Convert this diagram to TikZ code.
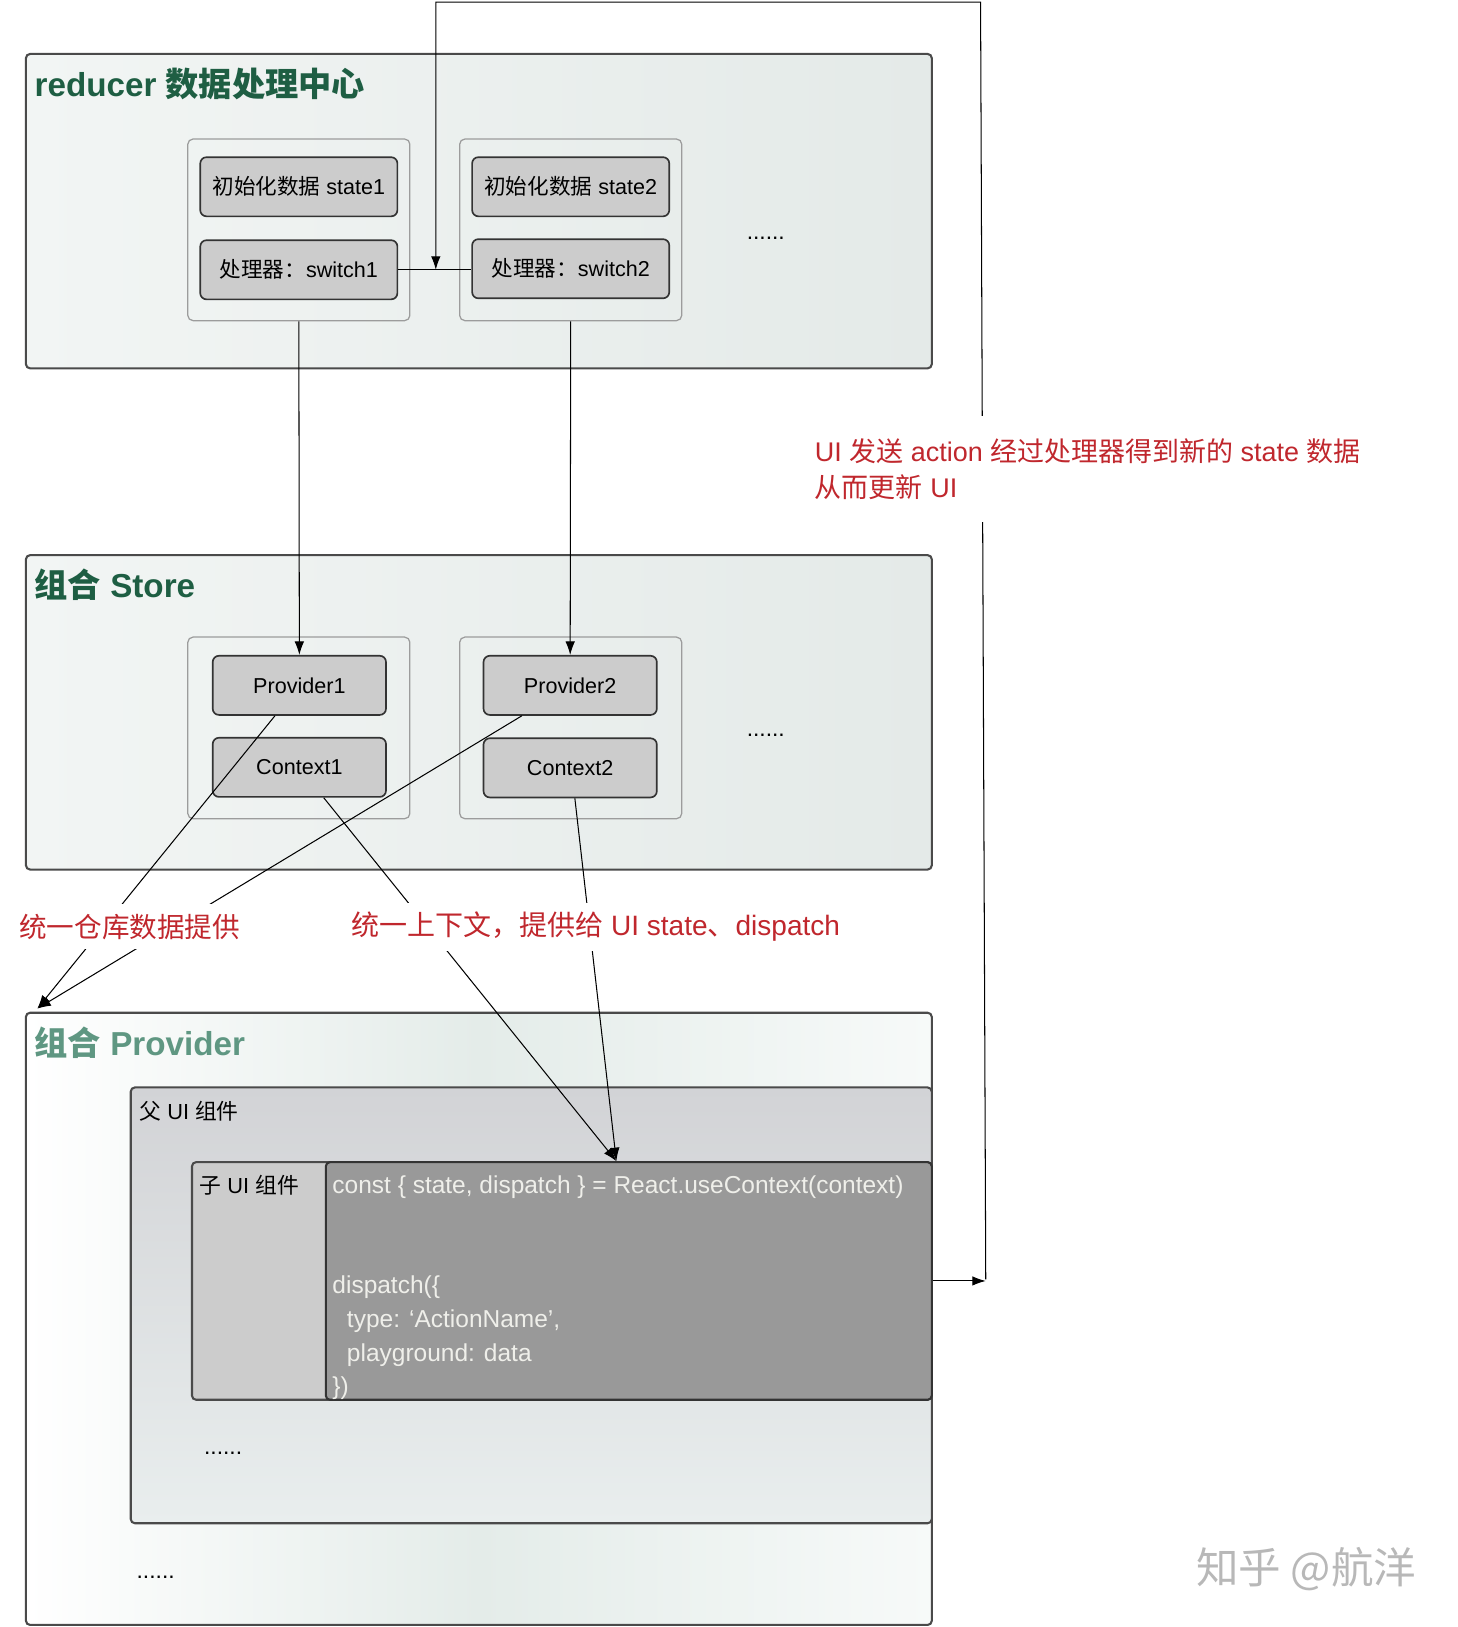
\documentclass[tikz,border=0pt]{standalone}
\usepackage{fontspec}
\setmainfont{Liberation Sans}
\newfontfamily\cjk{Noto Sans CJK SC}
\usepackage{tikz}
\usetikzlibrary{arrows.meta}

\definecolor{deepgreen}{HTML}{1E5E43}
\definecolor{palegreen}{HTML}{5F9782}
\definecolor{notered}{HTML}{C0272D}
\definecolor{boxgray}{HTML}{CCCCCC}
\definecolor{codegray}{HTML}{999999}
\definecolor{codetext}{HTML}{EFEFEA}
\definecolor{edge}{HTML}{4A4A4A}
\definecolor{grp}{HTML}{9C9C9C}
\definecolor{cellline}{HTML}{333333}
\definecolor{panelL}{HTML}{F2F5F4}
\definecolor{panelR}{HTML}{E4EAE8}
\definecolor{provmid}{HTML}{E4ECE9}
\definecolor{provR}{HTML}{F7FAF9}
\definecolor{parentT}{HTML}{D2D3D6}
\definecolor{parentB}{HTML}{E9EEEE}
\definecolor{mark}{HTML}{B8B8B8}

\newcommand{\zh}[1]{{\cjk #1}}

\begin{document}
\begin{tikzpicture}[x=0.5pt,y=-0.5pt,>={Latex[length=6.5pt,width=4.6pt]}]
  \tikzstyle{panel}=[draw=edge,line width=1pt,rounded corners=2pt,inner sep=0pt]
  \tikzstyle{group}=[draw=grp,line width=0.6pt,rounded corners=2.5pt,minimum width=107pt,minimum height=87.5pt,inner sep=0pt]
  \tikzstyle{cell}=[draw=cellline,line width=0.8pt,fill=boxgray,rounded corners=3pt,minimum width=95pt,minimum height=28.5pt,inner sep=0pt,font=\fontsize{10.4}{12}\selectfont]
  \tikzstyle{title}=[anchor=west,inner sep=0pt,font=\fontsize{16}{19}\selectfont\bfseries]
  \tikzstyle{label}=[anchor=west,inner sep=0pt,font=\fontsize{10.5}{12}\selectfont]
  \tikzstyle{note}=[text=notered,fill=white,font=\fontsize{13.5}{17.5}\selectfont]
  \tikzstyle{dots}=[font=\fontsize{11}{13}\selectfont]
  \tikzstyle{line}=[draw,line width=0.5pt]

  \useasboundingbox (0,0) rectangle (1405,1568);

  \node[panel,left color=panelL,right color=panelR,minimum width=436.5pt,minimum height=151.5pt] (reducer) at (461.5,203.5) {};
  \node[panel,left color=panelL,right color=panelR,minimum width=436.5pt,minimum height=151.5pt] (store) at (461.5,686.5) {};
  \node[panel,left color=white,right color=provR,middle color=provmid,minimum width=436.5pt,minimum height=295pt] (provider) at (461.5,1271) {};
  \node[panel,top color=parentT,bottom color=parentB,minimum width=386pt,minimum height=210pt] (parent) at (512,1258) {};
  \node[panel,fill=boxgray,minimum width=356.5pt,minimum height=114.5pt] (child) at (541.5,1234.5) {};
  \node[panel,draw=cellline,fill=codegray,minimum width=292pt,minimum height=114.5pt] (code) at (606,1234.5) {};

  \node[title,text=deepgreen] (reducertitle) at (33,81) {reducer \zh{数据处理中心}};
  \node[title,text=deepgreen] (storetitle) at (33,564) {\zh{组合} Store};
  \node[title,text=palegreen] (providertitle) at (33,1005) {\zh{组合} Provider};

  \node[group] (grp1) at (288,221.5) {};
  \node[group] (grp2) at (550,221.5) {};
  \node[cell] (state1) at (288,180) {\zh{初始化数据} state1};
  \node[cell] (switch1) at (288,260) {\zh{处理器：}switch1};
  \node[cell] (state2) at (550,180) {\zh{初始化数据} state2};
  \node[cell] (switch2) at (550,259) {\zh{处理器：}switch2};
  \node[dots] (dotsA) at (738,230) {......};

  \node[group] (sgrp1) at (288,701.5) {};
  \node[group] (sgrp2) at (550,701.5) {};
  \node[cell,minimum width=83.5pt] (prov1) at (288.5,660.5) {Provider1};
  \node[cell,minimum width=83.5pt] (ctx1) at (288.5,739.5) {Context1};
  \node[cell,minimum width=83.5pt] (prov2) at (549.5,660.5) {Provider2};
  \node[cell,minimum width=83.5pt] (ctx2) at (549.5,740) {Context2};
  \node[dots] (dotsB) at (738,709) {......};

  \node[label] (parentlabel) at (134,1071) {\zh{父} UI \zh{组件}};
  \node[label] (childlabel) at (192,1142) {\zh{子} UI \zh{组件}};
  \node[anchor=north west,inner sep=0pt,align=left,text=codetext,font=\fontsize{11.8}{16.2}\selectfont] (codelines) at (320,1133)
    {const \{ state, dispatch \} = React.useContext(context)\\[32pt]
     dispatch(\{\\
     \hspace*{7pt}type: ‘ActionName’,\\
     \hspace*{7pt}playground: data\\
     \})};
  \node[dots] (dotsC) at (215,1401) {......};
  \node[dots] (dotsD) at (150,1520) {......};

  \coordinate (ret) at (950,1233);
  \coordinate (tr) at (945,2);
  \coordinate (tl) at (420,2);
  \coordinate (corner) at ([xshift=6pt,yshift=1.5pt]provider.north west);
  \coordinate (hit) at ([xshift=-6pt]code.north);

  \draw[line] (switch1.east) -- (switch1.east -| switch2.west);
  \draw[line,->] (code.east) -- (code.east -| ret);
  \draw[line,->] (ret) -- (tr) -- (tl) -- (tl |- switch1.east);
  \draw[line,->] (grp1.south) -- (prov1.north);
  \draw[line,->] (grp2.south) -- (prov2.north);
  \draw[line,->] ([xshift=-11.75pt]prov1.south) -- (corner);
  \draw[line,->] ([xshift=-23.25pt]prov2.south) -- (corner);
  \draw[line,->] ([xshift=11.75pt]ctx1.south) -- (hit);
  \draw[line,->] ([xshift=2.25pt]ctx2.south) -- (hit);

  \node[note,anchor=west,align=left,inner ysep=11pt,inner xsep=2pt,font=\fontsize{13}{17.5}\selectfont] (feedback) at (781,452)
    {UI \zh{发送} action \zh{经过处理器得到新的} state \zh{数据}\\\zh{从而更新} UI};
  \node[note,inner ysep=4.5pt,font=\fontsize{13.3}{17.5}\selectfont] (storenote) at (125,893) {\zh{统一仓库数据提供}};
  \node[note,inner ysep=4.5pt] (ctxnote) at (574,893) {\zh{统一上下文，提供给} UI state\zh{、}dispatch};

  \node[text=mark,font=\fontsize{20.5}{24}\selectfont\cjk] (watermark) at (1259,1512) {知乎 @航洋};
\end{tikzpicture}
\end{document}
